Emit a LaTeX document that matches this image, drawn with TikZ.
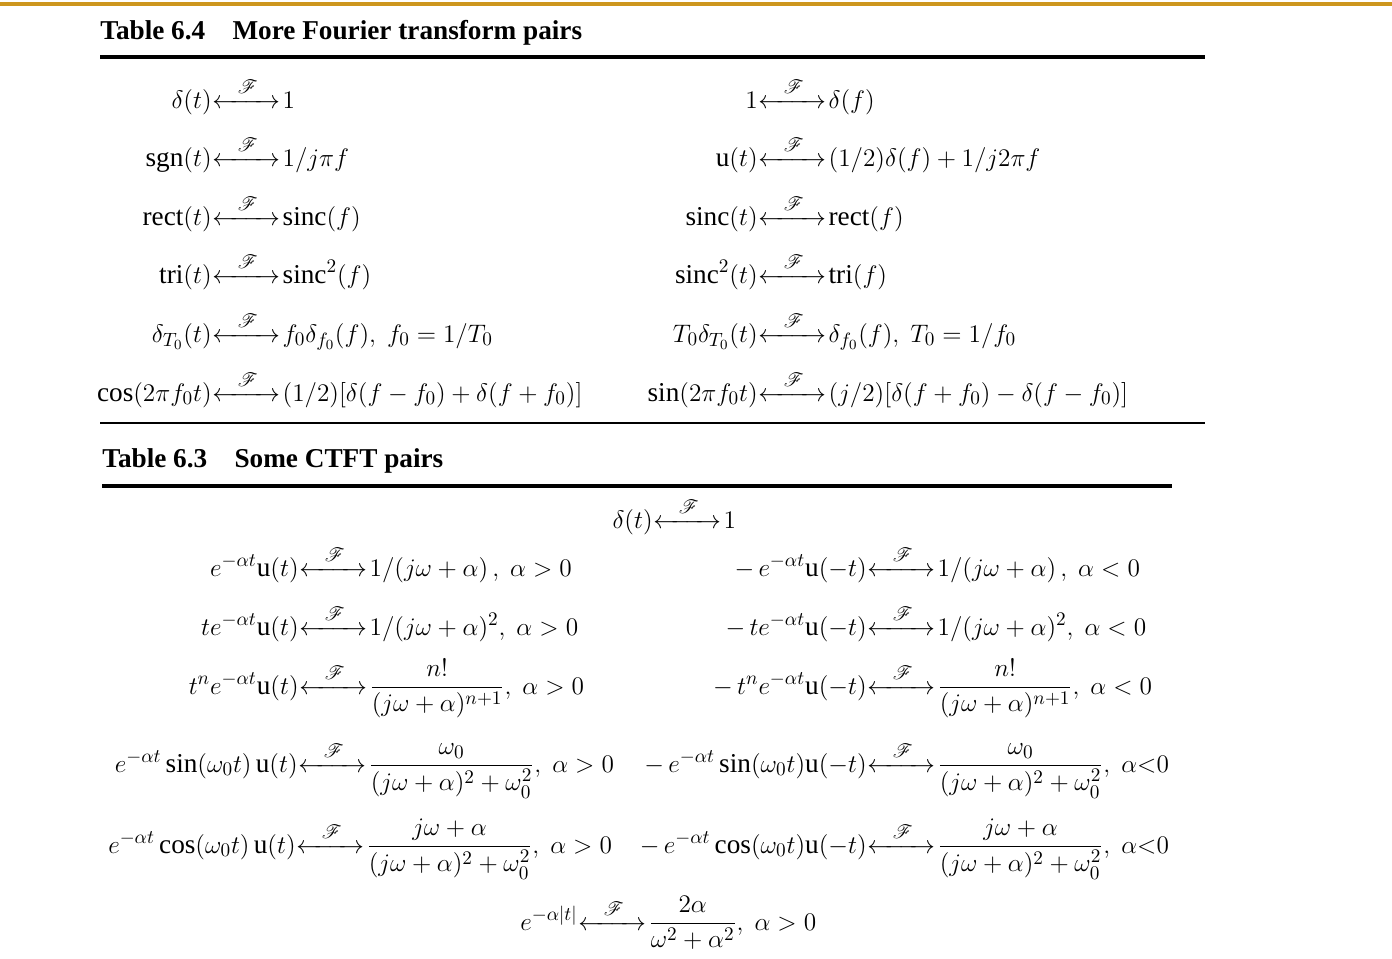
\documentclass[tikz,border=0pt]{standalone}
\usepackage{mathtools}
\usepackage{mathrsfs}
\usepackage{fontspec}
\setmainfont{Liberation Serif}
\newcommand{\FT}{\mathrel{\xleftrightarrow{\hspace{0.6em}\mathscr{F}\hspace{0.6em}}}\!}
\begin{document}
\begin{tikzpicture}[x=0.02cm,y=-0.02cm,
  eq/.style={inner sep=0pt,font=\fontsize{15.5}{18}\selectfont},
  L/.style={eq,anchor=base east},
  R/.style={eq,anchor=base west},
  hd/.style={inner sep=0pt,anchor=west,font=\fontsize{15.5}{18}\selectfont\bfseries}]
\useasboundingbox (0,0) rectangle (1392,958);
\fill[white] (0,0) rectangle (1392,958);
\draw[line width=2.2pt,color={rgb,255:red,205;green,150;blue,30}] (0,4) -- (1392,4);
\node[hd] (h1) at (100,33) {Table 6.4\quad More Fourier transform pairs};
\draw[line width=2.2pt] (100,57) -- (1205,57);
\draw[line width=0.6pt] (100,423) -- (1205,423);
\node[hd] (h2) at (102,461) {Table 6.3\quad Some CTFT pairs};
\draw[line width=2.2pt] (102,486) -- (1172,486);
% Table 6.4 left
\node[L] (a1) at (212,108) {$\delta(t)$};
\node[R] (b1) at (212,108) {$\FT 1$};
\node[L] (a2) at (212,166) {$\mathrm{sgn}(t)$};
\node[R] (b2) at (212,166) {$\FT 1/j\pi f$};
\node[L] (a3) at (212,225) {$\mathrm{rect}(t)$};
\node[R] (b3) at (212,225) {$\FT \mathrm{sinc}(f)$};
\node[L] (a4) at (212,283) {$\mathrm{tri}(t)$};
\node[R] (b4) at (212,283) {$\FT \mathrm{sinc}^2(f)$};
\node[L] (a5) at (212,342) {$\delta_{T_0}(t)$};
\node[R] (b5) at (212,342) {$\FT f_0\delta_{f_0}(f),\ f_0=1/T_0$};
\node[L] (a6) at (212,401) {$\cos(2\pi f_0 t)$};
\node[R] (b6) at (212,401) {$\FT (1/2)[\delta(f-f_0)+\delta(f+f_0)]$};
% Table 6.4 right
\node[L] (c1) at (758,108) {$1$};
\node[R] (d1) at (758,108) {$\FT \delta(f)$};
\node[L] (c2) at (758,166) {$\mathrm{u}(t)$};
\node[R] (d2) at (758,166) {$\FT (1/2)\delta(f)+1/j2\pi f$};
\node[L] (c3) at (758,225) {$\mathrm{sinc}(t)$};
\node[R] (d3) at (758,225) {$\FT \mathrm{rect}(f)$};
\node[L] (c4) at (758,283) {$\mathrm{sinc}^2(t)$};
\node[R] (d4) at (758,283) {$\FT \mathrm{tri}(f)$};
\node[L] (c5) at (758,342) {$T_0\delta_{T_0}(t)$};
\node[R] (d5) at (758,342) {$\FT \delta_{f_0}(f),\ T_0=1/f_0$};
\node[L] (c6) at (758,401) {$\sin(2\pi f_0 t)$};
\node[R] (d6) at (758,401) {$\FT (j/2)[\delta(f+f_0)-\delta(f-f_0)]$};
% Table 6.3
\node[L] (e0) at (653,528) {$\delta(t)$};
\node[R] (f0) at (653,528) {$\FT 1$};
\node[L] (e1) at (299,576) {$e^{-\alpha t}\mathrm{u}(t)$};
\node[R] (f1) at (299,576) {$\FT 1/(j\omega+\alpha)\,,\ \alpha>0$};
\node[L] (e2) at (299,635) {$te^{-\alpha t}\mathrm{u}(t)$};
\node[R] (f2) at (299,635) {$\FT 1/(j\omega+\alpha)^2,\ \alpha>0$};
\node[L] (e3) at (299,694) {$t^n e^{-\alpha t}\mathrm{u}(t)$};
\node[R] (f3) at (299,694) {$\FT \dfrac{n!}{(j\omega+\alpha)^{n+1}},\ \alpha>0$};
\node[L] (e4) at (298,772) {$e^{-\alpha t}\sin(\omega_0 t)\,\mathrm{u}(t)$};
\node[R] (f4) at (298,772) {$\FT \dfrac{\omega_0}{(j\omega+\alpha)^2+\omega_0^2},\ \alpha>0$};
\node[L] (e5) at (296,853) {$e^{-\alpha t}\cos(\omega_0 t)\,\mathrm{u}(t)$};
\node[R] (f5) at (296,853) {$\FT \dfrac{j\omega+\alpha}{(j\omega+\alpha)^2+\omega_0^2},\ \alpha>0$};
\node[L] (g1) at (867,576) {$-\,e^{-\alpha t}\mathrm{u}(-t)$};
\node[R] (k1) at (867,576) {$\FT 1/(j\omega+\alpha)\,,\ \alpha<0$};
\node[L] (g2) at (867,635) {$-\,te^{-\alpha t}\mathrm{u}(-t)$};
\node[R] (k2) at (867,635) {$\FT 1/(j\omega+\alpha)^2,\ \alpha<0$};
\node[L] (g3) at (867,694) {$-\,t^n e^{-\alpha t}\mathrm{u}(-t)$};
\node[R] (k3) at (867,694) {$\FT \dfrac{n!}{(j\omega+\alpha)^{n+1}},\ \alpha<0$};
\node[L] (g4) at (867,772) {$-\,e^{-\alpha t}\sin(\omega_0 t)\mathrm{u}(-t)$};
\node[R] (k4) at (867,772) {$\FT \dfrac{\omega_0}{(j\omega+\alpha)^2+\omega_0^2},\ \alpha{<}0$};
\node[L] (g5) at (867,853) {$-\,e^{-\alpha t}\cos(\omega_0 t)\mathrm{u}(-t)$};
\node[R] (k5) at (867,853) {$\FT \dfrac{j\omega+\alpha}{(j\omega+\alpha)^2+\omega_0^2},\ \alpha{<}0$};
\node[L] (e6) at (578,930) {$e^{-\alpha|t|}$};
\node[R] (f6) at (578,930) {$\FT \dfrac{2\alpha}{\omega^2+\alpha^2},\ \alpha>0$};
\end{tikzpicture}
\end{document}
